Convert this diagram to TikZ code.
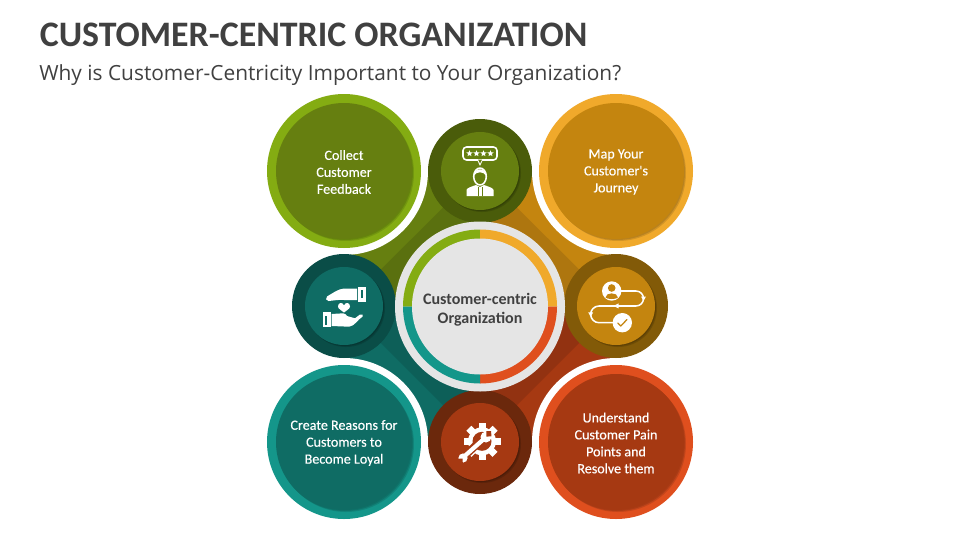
\documentclass[tikz,border=0pt]{standalone}
\usepackage{fontspec}
\setmainfont{Carlito}
\newfontfamily\subfont{Open Sans}
\newfontfamily\labelfont[FakeBold=0.35]{Carlito}
\usetikzlibrary{positioning,shapes.geometric}
\definecolor{grnA}{HTML}{84AC12}
\definecolor{grnB}{HTML}{667F10}
\definecolor{grnC}{HTML}{4A5C0A}
\definecolor{grnD}{HTML}{5A700F}
\definecolor{orgA}{HTML}{F0A92B}
\definecolor{orgB}{HTML}{C4850F}
\definecolor{orgC}{HTML}{825A08}
\definecolor{orgD}{HTML}{AE760F}
\definecolor{redA}{HTML}{DF4F1E}
\definecolor{redB}{HTML}{A63912}
\definecolor{redC}{HTML}{6B280C}
\definecolor{redD}{HTML}{923211}
\definecolor{tealA}{HTML}{14968A}
\definecolor{tealB}{HTML}{0F6C64}
\definecolor{tealC}{HTML}{0A4D47}
\definecolor{tealD}{HTML}{0D5F58}
\definecolor{titlegray}{HTML}{404040}
\tikzset{
  bigtext/.style={text=white,align=center,inner sep=0pt,font=\labelfont\fontsize{10}{12.05}\selectfont},
  iconline/.style={draw=white,line width=1.1pt,line cap=round,line join=round},
  ratestar/.style={star,star points=5,star point ratio=2.2,fill=white,inner sep=0pt,minimum size=4.6pt},
}
\begin{document}
\begin{tikzpicture}[x=0.025cm,y=-0.025cm]
  \useasboundingbox (0,0) rectangle (960,540);
  \node[anchor=west,inner sep=0pt,text=titlegray,font=\fontsize{25.5}{30}\selectfont\bfseries] (title) at (39.5,35) {CUSTOMER-CENTRIC ORGANIZATION};
  \node[anchor=west,inner sep=0pt,text=titlegray,font=\subfont\fontsize{14.85}{18}\selectfont] (subtitle) at (39,75.5) {Why is Customer-Centricity Important to Your Organization?};

  % wedges between the small circles
  \foreach \cx/\cy/\col/\dark/\ax/\ay/\bx/\by in {
      344/171/grnB/grnD/480/171/344/306,
      616/171/orgB/orgD/480/171/616/306,
      344/442/tealB/tealD/344/306/480/442,
      616/442/redB/redD/616/306/480/442}{
    \fill[\col] (\cx,\cy) -- (\ax,\ay) -- (480,306) -- (\bx,\by) -- cycle;
    \fill[\dark] (\ax,\ay) -- (480,306) -- (\bx,\by) -- cycle;
    \fill[white] (\cx,\cy) circle (84);
  }

  % big circles
  \foreach \name/\cx/\cy/\ty/\col/\fillcol/\txt in {
      feedback/344/171/172/grnA/grnB/{Collect\\Customer\\Feedback},
      journey/616/171/172/orgA/orgB/{Map Your\\Customer\textquotesingle s\\Journey},
      loyal/344/442/443/tealA/tealB/{Create Reasons for\\Customers to\\Become Loyal},
      pain/616/442/443/redA/redB/{Understand\\Customer Pain\\Points and\\Resolve them}}{
    \fill[\col] (\cx,\cy) circle (77);
    \fill[black,opacity=0.12] (\cx+2,\cy+2) circle (68);
    \fill[black,opacity=0.12] (\cx+1,\cy+1) circle (68);
    \fill[\fillcol] (\cx,\cy) circle (68);
    \node[bigtext] (\name) at (\cx,\ty) {\txt};
  }

  % small circles
  \foreach \cx/\cy/\col/\fillcol in {
      480/171/grnC/grnB,
      616/306/orgC/orgB,
      480/442/redC/redB,
      344/306/tealC/tealB}{
    \fill[\col] (\cx,\cy) circle (52);
    \fill[black,opacity=0.15] (\cx+2,\cy+2) circle (39);
    \fill[black,opacity=0.15] (\cx+1,\cy+1) circle (39);
    \fill[\fillcol] (\cx,\cy) circle (39);
  }

  % centre
  \fill[black!10] (480,306.5) circle (85);
  \fill[grnA] (480,306.5) -- (403,306.5) arc[start angle=180,end angle=90,x radius=77,y radius=-77] -- cycle;
  \fill[orgA] (480,306.5) -- (480,229.5) arc[start angle=90,end angle=0,x radius=77,y radius=-77] -- cycle;
  \fill[redA] (480,306.5) -- (557,306.5) arc[start angle=0,end angle=-90,x radius=77,y radius=-77] -- cycle;
  \fill[tealA] (480,306.5) -- (480,383.5) arc[start angle=-90,end angle=-180,x radius=77,y radius=-77] -- cycle;
  \fill[black!10] (480,306.5) circle (68);
  \node[inner sep=0pt,text=titlegray,align=center,font=\fontsize{11.4}{13.5}\selectfont\bfseries] (centre) at (480,309.5) {Customer-centric\\Organization};

  % icon: person with rating bubble
  \begin{scope}[shift={(480,171)}]
    \draw[iconline,rounded corners=2.5] (-17,-24) rectangle (17,-11);
    \foreach \i in {-10.5,-3.5,3.5,10.5}{
      \node[ratestar] (star\i) at (\i,-17.5) {};}
    \fill[white] (-3,-11.5) -- (0,-5) -- (3,-11.5) -- cycle;
    \fill[grnB] (-2,-11.5) -- (0,-7.5) -- (2,-11.5) -- cycle;
    \draw[iconline] (0,5.5) ellipse (6.3 and 8.5);
    \fill[white] (-6.5,5) .. controls (-7,-4) and (7,-4) .. (6.5,5) .. controls (3,0) and (-3,0) .. (-6.5,5);
    \fill[white] (-13.5,25) -- (-13.5,19) .. controls (-13.5,17) and (-8,15.5) .. (-4,14) -- (0,16) -- (4,14) .. controls (8,15.5) and (13.5,17) .. (13.5,19) -- (13.5,25) -- cycle;
    \draw[grnB,line width=0.5pt] (-2,16) -- (-2,25) (2,16) -- (2,25);
  \end{scope}

  % icon: hands and heart
  \begin{scope}[shift={(344,306)}]
    \fill[white] (-17,-9.5) .. controls (-11,-13) and (-6,-17) .. (0,-17.5) -- (13,-17.5) -- (13,-6) -- (0,-6) .. controls (-5,-6.5) and (-10,-5.5) .. (-15.5,-5) .. controls (-18,-5) and (-19,-8) .. (-17,-9.5) -- cycle;
    \fill[white] (14.3,-19.3) rectangle (21.7,-4.3);
    \fill[tealB] (17,-16) rectangle (18.8,-7.7);
    \fill[white] (-6,0.5) .. controls (-6,-4) and (-1,-4) .. (0,-0.5) .. controls (1,-4) and (6,-4) .. (6,0.5) .. controls (6,3) and (2,4.5) .. (0,6.5) .. controls (-2,4.5) and (-6,3) .. (-6,0.5) -- cycle;
    \fill[white] (18.7,10.5) .. controls (13,14) and (11,20) .. (5,20.7) -- (-12.5,20) -- (-12.5,8) -- (-1,7.3) .. controls (1,7.5) and (3,9) .. (3,10) -- (11,12.3) -- (16,8.5) .. controls (18,8) and (20,9) .. (18.7,10.5) -- cycle;
    \fill[white] (-21,6.3) rectangle (-13.5,21.3);
    \fill[tealB] (-19,9.5) rectangle (-17.2,18.5);
  \end{scope}

  % icon: journey path
  \begin{scope}[shift={(616,306)}]
    \draw[iconline] (-4.3,-15) -- (20,-15) arc[start angle=-90,end angle=90,radius=7.5] -- (-17,0) arc[start angle=-90,end angle=-270,radius=8.35] -- (6.3,16.7);
    \fill[white] (-2.5,-0.1) -- (2.5,-2.6) -- (2.5,2.4) -- cycle;
    \fill[white] (25,-9.5) -- (30,-9.5) -- (27.5,-5) -- cycle;
    \fill[white] (-27.8,6.3) -- (-22.8,6.3) -- (-25.3,10.8) -- cycle;
    \fill[white] (-4.3,-15) circle (9.7);
    \fill[orgB] (-4.3,-18) circle (3.8);
    \fill[orgB] (-10.5,-8.5) .. controls (-10.5,-14) and (1.9,-14) .. (1.9,-8.5) .. controls (0,-6.5) and (-8.5,-6.5) .. (-10.5,-8.5) -- cycle;
    \fill[white] (6.3,16.7) circle (9.7);
    \draw[draw=orgB,line width=0.9pt,line cap=round,line join=round] (1.8,17) -- (4.8,20) -- (11,13.5);
  \end{scope}

  % icon: gear and wrench
  \begin{scope}[shift={(480,442)}]
    \foreach \a in {0,45,...,315}{
      \fill[white,shift={(2,-0.7)},rotate=\a] (-3.5,-18.5) rectangle (3.5,-12);}
    \fill[white] (2,-0.7) circle (14);
    \fill[redB] (2,-0.7) circle (9.5);
    \draw[redB,line width=5.6pt] (-20,18) -- (4,-4);
    \draw[white,line width=3pt] (-17,15.5) -- (5,-4);
    \fill[white] (6,-5) circle (5.5);
    \fill[redB] (6.3,-5.3) -- (6.5,-11) -- (11,-11) -- (11.5,-5.8) -- cycle;
    \fill[white] (-17,16) circle (4.6);
    \fill[redB] (-17.5,16.5) -- (-24,17) -- (-24,24) -- (-17,24) -- cycle;
  \end{scope}
\end{tikzpicture}
\end{document}
